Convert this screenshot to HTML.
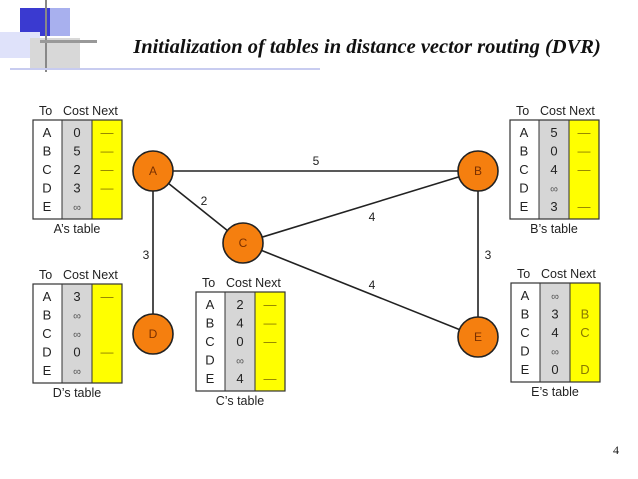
<!DOCTYPE html>
<html><head><meta charset="utf-8"><style>
html,body{margin:0;padding:0;background:#fff;}
svg{display:block;}
text{font-family:"Liberation Sans",sans-serif;}
.h{font-size:12.5px;fill:#222;}
.t{font-size:13px;fill:#222;text-anchor:middle;}
.inf{font-size:11px;fill:#555;text-anchor:middle;}
.n{font-size:13px;fill:#8a7a00;text-anchor:middle;}
.lbl{font-size:12.5px;fill:#222;text-anchor:middle;}
.w{font-size:12px;fill:#222;text-anchor:middle;}
.node{font-size:12px;fill:#7a3000;text-anchor:middle;}
</style></head><body>
<svg width="638" height="479" viewBox="0 0 638 479" xmlns="http://www.w3.org/2000/svg">
<!-- logo -->
<rect x="20" y="8" width="30" height="28" fill="#3a3ad0"/>
<rect x="50" y="8" width="20" height="28" fill="#a8b0ee"/>
<rect x="0" y="32" width="40" height="26" fill="#dfe2fa"/>
<rect x="30" y="38" width="50" height="30" fill="#d8d8d8"/>
<rect x="45" y="0" width="2" height="72" fill="#888"/>
<rect x="40" y="40" width="57" height="3" fill="#999"/>
<rect x="10" y="68" width="310" height="2" fill="#c8ccf0"/>
<text x="367" y="53" style="font-family:'Liberation Serif',serif;font-style:italic;font-weight:bold;font-size:20.5px;fill:#111" text-anchor="middle">Initialization of tables in distance vector routing (DVR)</text>
<text x="613" y="454" style="font-family:'Liberation Serif',serif;font-size:12px;fill:#111">4</text>

<!-- edges -->
<g stroke="#222" stroke-width="1.6">
<line x1="153" y1="171" x2="478" y2="171"/>
<line x1="153" y1="171" x2="243" y2="243"/>
<line x1="153" y1="171" x2="153" y2="334"/>
<line x1="243" y1="243" x2="478" y2="171"/>
<line x1="243" y1="243" x2="478" y2="337"/>
<line x1="478" y1="171" x2="478" y2="337"/>
</g>
<text class="w" x="316" y="165">5</text>
<text class="w" x="204" y="205">2</text>
<text class="w" x="372" y="221">4</text>
<text class="w" x="146" y="259">3</text>
<text class="w" x="488" y="259">3</text>
<text class="w" x="372" y="289">4</text>

<!-- nodes -->
<g fill="#f57f0f" stroke="#222" stroke-width="1.6">
<circle cx="153" cy="171" r="20"/>
<circle cx="478" cy="171" r="20"/>
<circle cx="243" cy="243" r="20"/>
<circle cx="153" cy="334" r="20"/>
<circle cx="478" cy="337" r="20"/>
</g>
<text class="node" x="153" y="175">A</text>
<text class="node" x="478" y="175">B</text>
<text class="node" x="243" y="247">C</text>
<text class="node" x="153" y="338">D</text>
<text class="node" x="478" y="341">E</text>

<!-- A table -->
<g transform="translate(33,120)">
<text class="h" x="6" y="-5">To</text><text class="h" x="30" y="-5">Cost Next</text>
<rect x="0" y="0" width="29" height="99" fill="#fff"/><rect x="29" y="0" width="30" height="99" fill="#d6d6d6"/><rect x="59" y="0" width="30" height="99" fill="#ffff00"/>
<rect x="0" y="0" width="89" height="99" fill="none" stroke="#333" stroke-width="1.2"/><line x1="29" y1="0" x2="29" y2="99" stroke="#333"/><line x1="59" y1="0" x2="59" y2="99" stroke="#333"/>
<text class="t" x="14" y="17">A</text><text class="t" x="14" y="35.5">B</text><text class="t" x="14" y="54">C</text><text class="t" x="14" y="72.5">D</text><text class="t" x="14" y="91">E</text>
<text class="t" x="44" y="17">0</text><text class="t" x="44" y="35.5">5</text><text class="t" x="44" y="54">2</text><text class="t" x="44" y="72.5">3</text><text class="inf" x="44" y="91">∞</text>
<text class="n" x="74" y="17">—</text><text class="n" x="74" y="35.5">—</text><text class="n" x="74" y="54">—</text><text class="n" x="74" y="72.5">—</text>
<text class="lbl" x="44" y="113">A’s table</text>
</g>

<!-- B table -->
<g transform="translate(510,120)">
<text class="h" x="6" y="-5">To</text><text class="h" x="30" y="-5">Cost Next</text>
<rect x="0" y="0" width="29" height="99" fill="#fff"/><rect x="29" y="0" width="30" height="99" fill="#d6d6d6"/><rect x="59" y="0" width="30" height="99" fill="#ffff00"/>
<rect x="0" y="0" width="89" height="99" fill="none" stroke="#333" stroke-width="1.2"/><line x1="29" y1="0" x2="29" y2="99" stroke="#333"/><line x1="59" y1="0" x2="59" y2="99" stroke="#333"/>
<text class="t" x="14" y="17">A</text><text class="t" x="14" y="35.5">B</text><text class="t" x="14" y="54">C</text><text class="t" x="14" y="72.5">D</text><text class="t" x="14" y="91">E</text>
<text class="t" x="44" y="17">5</text><text class="t" x="44" y="35.5">0</text><text class="t" x="44" y="54">4</text><text class="inf" x="44" y="72.5">∞</text><text class="t" x="44" y="91">3</text>
<text class="n" x="74" y="17">—</text><text class="n" x="74" y="35.5">—</text><text class="n" x="74" y="54">—</text><text class="n" x="74" y="91">—</text>
<text class="lbl" x="44" y="113">B’s table</text>
</g>

<!-- D table -->
<g transform="translate(33,284)">
<text class="h" x="6" y="-5">To</text><text class="h" x="30" y="-5">Cost Next</text>
<rect x="0" y="0" width="29" height="99" fill="#fff"/><rect x="29" y="0" width="30" height="99" fill="#d6d6d6"/><rect x="59" y="0" width="30" height="99" fill="#ffff00"/>
<rect x="0" y="0" width="89" height="99" fill="none" stroke="#333" stroke-width="1.2"/><line x1="29" y1="0" x2="29" y2="99" stroke="#333"/><line x1="59" y1="0" x2="59" y2="99" stroke="#333"/>
<text class="t" x="14" y="17">A</text><text class="t" x="14" y="35.5">B</text><text class="t" x="14" y="54">C</text><text class="t" x="14" y="72.5">D</text><text class="t" x="14" y="91">E</text>
<text class="t" x="44" y="17">3</text><text class="inf" x="44" y="35.5">∞</text><text class="inf" x="44" y="54">∞</text><text class="t" x="44" y="72.5">0</text><text class="inf" x="44" y="91">∞</text>
<text class="n" x="74" y="17">—</text><text class="n" x="74" y="72.5">—</text>
<text class="lbl" x="44" y="113">D’s table</text>
</g>

<!-- C table -->
<g transform="translate(196,292)">
<text class="h" x="6" y="-5">To</text><text class="h" x="30" y="-5">Cost Next</text>
<rect x="0" y="0" width="29" height="99" fill="#fff"/><rect x="29" y="0" width="30" height="99" fill="#d6d6d6"/><rect x="59" y="0" width="30" height="99" fill="#ffff00"/>
<rect x="0" y="0" width="89" height="99" fill="none" stroke="#333" stroke-width="1.2"/><line x1="29" y1="0" x2="29" y2="99" stroke="#333"/><line x1="59" y1="0" x2="59" y2="99" stroke="#333"/>
<text class="t" x="14" y="17">A</text><text class="t" x="14" y="35.5">B</text><text class="t" x="14" y="54">C</text><text class="t" x="14" y="72.5">D</text><text class="t" x="14" y="91">E</text>
<text class="t" x="44" y="17">2</text><text class="t" x="44" y="35.5">4</text><text class="t" x="44" y="54">0</text><text class="inf" x="44" y="72.5">∞</text><text class="t" x="44" y="91">4</text>
<text class="n" x="74" y="17">—</text><text class="n" x="74" y="35.5">—</text><text class="n" x="74" y="54">—</text><text class="n" x="74" y="91">—</text>
<text class="lbl" x="44" y="113">C’s table</text>
</g>

<!-- E table -->
<g transform="translate(511,283)">
<text class="h" x="6" y="-5">To</text><text class="h" x="30" y="-5">Cost Next</text>
<rect x="0" y="0" width="29" height="99" fill="#fff"/><rect x="29" y="0" width="30" height="99" fill="#d6d6d6"/><rect x="59" y="0" width="30" height="99" fill="#ffff00"/>
<rect x="0" y="0" width="89" height="99" fill="none" stroke="#333" stroke-width="1.2"/><line x1="29" y1="0" x2="29" y2="99" stroke="#333"/><line x1="59" y1="0" x2="59" y2="99" stroke="#333"/>
<text class="t" x="14" y="17">A</text><text class="t" x="14" y="35.5">B</text><text class="t" x="14" y="54">C</text><text class="t" x="14" y="72.5">D</text><text class="t" x="14" y="91">E</text>
<text class="inf" x="44" y="17">∞</text><text class="t" x="44" y="35.5">3</text><text class="t" x="44" y="54">4</text><text class="inf" x="44" y="72.5">∞</text><text class="t" x="44" y="91">0</text>
<text class="n" x="74" y="35.5">B</text><text class="n" x="74" y="54">C</text><text class="n" x="74" y="91">D</text>
<text class="lbl" x="44" y="113">E’s table</text>
</g>
</svg>
</body></html>
